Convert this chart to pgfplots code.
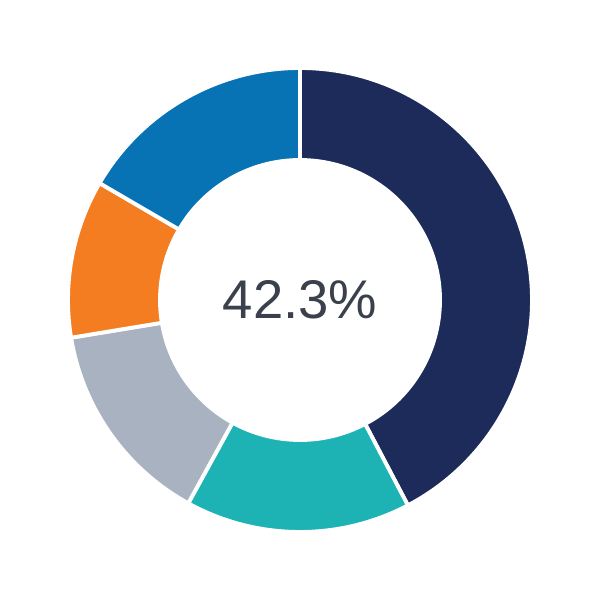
\documentclass[border=0pt]{standalone}
\usepackage{fontspec}
\setmainfont{Liberation Sans}
\usepackage{pgfplots}
\usepackage{pgfplotstable}
\pgfplotsset{compat=1.18}

\definecolor{slice0}{HTML}{1C2B5A}
\definecolor{slice1}{HTML}{1DB3B5}
\definecolor{slice2}{HTML}{A8B2C1}
\definecolor{slice3}{HTML}{F37D20}
\definecolor{slice4}{HTML}{0773B4}
\definecolor{centretext}{HTML}{3A404C}

% shares in percent, clockwise from 12 o'clock
\pgfplotstableread{
share
42.3
15.7
14.4
11.0
16.6
}\slices

\def\rout{2.32}
\def\rin{1.40}

% start/end angle of every slice
\gdef\curang{90}
\pgfplotsforeachungrouped \i in {0,...,4}{%
  \pgfplotstablegetelem{\i}{share}\of\slices
  \pgfmathsetmacro\nextang{\curang-3.6*\pgfplotsretval}%
  \expandafter\xdef\csname sa\i\endcsname{\curang}%
  \expandafter\xdef\csname ea\i\endcsname{\nextang}%
  \xdef\curang{\nextang}%
}

\begin{document}
\begin{tikzpicture}
\begin{axis}[
    x=1cm, y=1cm,
    xmin=-3, xmax=3,
    ymin=-3, ymax=3,
    hide axis,
    clip=false,
]
\path (axis cs:-3,-3) rectangle (axis cs:3,3);
\pgfplotsinvokeforeach{0,...,4}{
  \fill[slice#1, draw=white, line width=1.1pt, line join=round]
    (axis cs:{\rout*cos(\csname sa#1\endcsname)},{\rout*sin(\csname sa#1\endcsname)})
    arc[start angle=\csname sa#1\endcsname, end angle=\csname ea#1\endcsname, radius=\rout cm]
    -- (axis cs:{\rin*cos(\csname ea#1\endcsname)},{\rin*sin(\csname ea#1\endcsname)})
    arc[start angle=\csname ea#1\endcsname, end angle=\csname sa#1\endcsname, radius=\rin cm]
    -- cycle;
}
\node[text=centretext, font=\fontsize{15.5}{18}\selectfont] at (axis cs:0,0) {42.3\%};
\end{axis}
\end{tikzpicture}
\end{document}
